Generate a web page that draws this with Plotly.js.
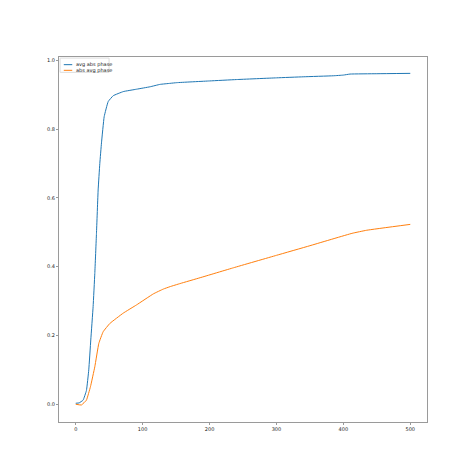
<!DOCTYPE html>
<html>
<head>
<meta charset="utf-8">
<script src="https://cdn.plot.ly/plotly-3.0.1.min.js"></script>
<style>
  html, body { margin: 0; padding: 0; background: #fff; }
  #plot { width: 474px; height: 474px; }
</style>
</head>
<body>
<div id="plot"></div>
<script>
// avg abs phase (blue)
var avgAbsX = [0, 5, 11, 16, 19.5, 22.5, 26, 28.5, 31, 33.5, 36, 38.5, 42.5, 48.5, 56, 71, 91, 111, 126, 141, 151, 200, 240, 300, 340, 385, 400, 410, 450, 500];
var avgAbsY = [0.003, 0.004, 0.012, 0.04, 0.10, 0.187, 0.284, 0.38, 0.497, 0.623, 0.70, 0.76, 0.836, 0.880, 0.897, 0.909, 0.916, 0.923, 0.930, 0.933, 0.935, 0.940, 0.944, 0.949, 0.952, 0.955, 0.957, 0.960, 0.961, 0.962];

// abs avg phase (orange)
var absAvgX = [0, 8.5, 16, 22, 28.5, 34.5, 41, 51, 71, 91, 116, 131, 141, 156, 186, 236, 300, 350, 413, 435, 500];
var absAvgY = [0.0, -0.002, 0.012, 0.051, 0.109, 0.177, 0.211, 0.235, 0.265, 0.289, 0.321, 0.335, 0.342, 0.351, 0.368, 0.397, 0.433, 0.461, 0.497, 0.506, 0.523];

var seriesNames = ['avg abs phase', 'abs avg phase'];
var seriesColors = ['#1f77b4', '#ff7f0e'];

var xTicks = [0, 100, 200, 300, 400, 500];
var yTicks = [0.0, 0.2, 0.4, 0.6, 0.8, 1.0];
var yTickText = ['0.0', '0.2', '0.4', '0.6', '0.8', '1.0'];

var configOptions = {
    displayModeBar: false,
    staticPlot: true
};

var traces = [
    {
        type: 'scatter',
        mode: 'lines',
        name: seriesNames[0],
        x: avgAbsX,
        y: avgAbsY,
        line: { color: seriesColors[0], width: 1, shape: 'spline', smoothing: 0.3 }
    },
    {
        type: 'scatter',
        mode: 'lines',
        name: seriesNames[1],
        x: absAvgX,
        y: absAvgY,
        line: { color: seriesColors[1], width: 1, shape: 'spline', smoothing: 0.3 }
    }
];

var axisCommon = {
    showgrid: false,
    zeroline: false,
    showline: true,
    mirror: true,
    linecolor: '#9a9a9a',
    linewidth: 1,
    ticks: 'outside',
    ticklen: 2,
    tickwidth: 1,
    tickcolor: '#9a9a9a',
    tickfont: { family: 'DejaVu Sans', size: 5, color: '#222' }
};

// small matplotlib-style legend box, built from shapes + annotations
// (plotly's own legend has a minimum row height that is far too tall here)
var legendShapes = [
    { type: 'rect', xref: 'paper', yref: 'paper', x0: 0.003, x1: 0.136, y0: 0.958, y1: 0.997,
      line: { color: '#dddddd', width: 1 }, fillcolor: 'rgba(255,255,255,0.8)' }
];
var legendNotes = [];
seriesNames.forEach(function (name, i) {
    var yy = 0.979 - i * 0.0155;
    legendShapes.push({ type: 'line', xref: 'paper', yref: 'paper', x0: 0.013, x1: 0.036, y0: yy, y1: yy,
        line: { color: seriesColors[i], width: 1 } });
    legendNotes.push({ xref: 'paper', yref: 'paper', x: 0.041, y: yy, xanchor: 'left', yanchor: 'middle',
        text: name, showarrow: false, font: { family: 'DejaVu Sans', size: 5, color: '#222' } });
});

var layout = {
    width: 474,
    height: 474,
    margin: { l: 59, r: 47, t: 57, b: 52, pad: 0 },
    paper_bgcolor: '#fff',
    plot_bgcolor: '#fff',
    showlegend: false,
    shapes: legendShapes,
    annotations: legendNotes,
    xaxis: Object.assign({}, axisCommon, {
        range: [-25, 525],
        tickvals: xTicks
    }),
    yaxis: Object.assign({}, axisCommon, {
        range: [-0.0515, 1.0096],
        tickvals: yTicks,
        ticktext: yTickText
    })
};

Plotly.newPlot('plot', traces, layout, configOptions);
</script>
</body>
</html>
